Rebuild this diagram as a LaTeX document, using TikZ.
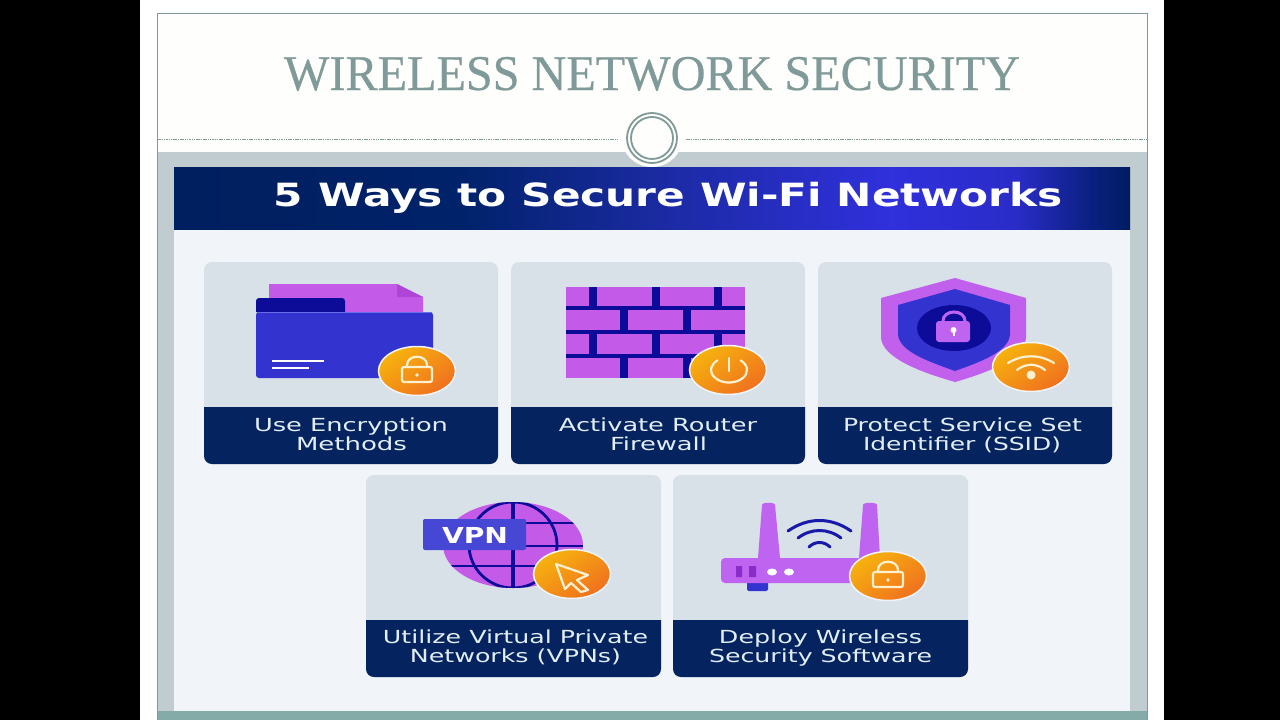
\documentclass[tikz,border=0pt]{standalone}
\usepackage{fontspec}
\usepackage{graphicx}
\usetikzlibrary{shapes.geometric}
\newfontfamily\titlefont[FakeBold=0.5]{Liberation Serif}
\newfontfamily\labelfont{DejaVu Sans}
\definecolor{sage}{HTML}{7F9A98}
\definecolor{pageoff}{HTML}{FEFFFC}
\definecolor{bandgrey}{HTML}{C0CCD0}
\definecolor{imgbg}{HTML}{F1F5FA}
\definecolor{cardbg}{HTML}{D8E0E8}
\definecolor{navy}{HTML}{05245F}
\definecolor{labeltxt}{HTML}{E2EEF6}
\definecolor{purp}{HTML}{C45BE8}
\definecolor{violet}{HTML}{BE64F0}
\definecolor{foldfold}{HTML}{AE45D8}
\definecolor{slot}{HTML}{8A2CC8}
\definecolor{folder}{HTML}{3333D0}
\definecolor{folderhi}{HTML}{6A6AE8}
\definecolor{deep}{HTML}{0C0C98}
\definecolor{cream}{HTML}{FFF0D0}
\definecolor{teal}{HTML}{84ABA8}
\definecolor{hsa}{HTML}{001F5E}
\definecolor{hsb}{HTML}{00226A}
\definecolor{hsc}{HTML}{1A2AA0}
\definecolor{hsd}{HTML}{3030DC}
\definecolor{hse}{HTML}{2A2CC8}
\definecolor{hsf}{HTML}{0A2080}
\definecolor{hsg}{HTML}{001C60}
\definecolor{bdgA}{HTML}{F6B30E}
\definecolor{bdgB}{HTML}{F0701F}
\pgfdeclarehorizontalshading{headshade}{100bp}{
  color(0bp)=(hsa);color(25bp)=(hsa);color(40bp)=(hsb);
  color(50bp)=(hsc);color(62.5bp)=(hsd);color(69bp)=(hse);color(73bp)=(hsf);color(75bp)=(hsg);color(100bp)=(hsg)}
\tikzset{
  x=1pt,y=-1pt,
  cardbox/.style={fill=cardbg,rounded corners=8pt},
  cardband/.style={fill=navy},
  cardtext/.style={text=labeltxt,anchor=base,inner sep=0pt,font=\labelfont\fontsize{18}{18}\selectfont},
  badgeshade/.style={ellipse,minimum width=77pt,minimum height=49pt,inner sep=0pt,draw=imgbg,line width=1.5pt,
    left color=bdgA,right color=bdgB,shading angle=35},
  iconline/.style={draw=cream,line width=2.2pt,line cap=round,line join=round},
  mortar/.style={fill=deep},
}
\newcommand\wfit[2]{\resizebox{#1pt}{\height}{#2}}
\newcommand\cardshape[5]{%
  \fill[cardbox] (#1,#2) rectangle (#4,#5);
  \fill[cardband] (#1,#3) -- (#4,#3) {[rounded corners=8pt] -- (#4,#5) -- (#1,#5)} -- cycle;}
\newcommand\lockicon{%
  \draw[iconline] (-15,-4) [rounded corners=2pt] -- (15,-4) -- (15,11) -- (-15,11) -- cycle;
  \draw[iconline] (-10,-4) -- (-10,-6) .. controls (-10,-17) and (10,-17) .. (10,-6) -- (10,-4);
  \fill[cream] (0,4) circle [radius=1.9];}
\begin{document}
\begin{tikzpicture}
\useasboundingbox (0,0) rectangle (1280,720);
\fill[black] (0,0) rectangle (1280,720);
\fill[white] (140,0) rectangle (1164,720);
\fill[pageoff] (157,13) rectangle (1147,720);
\fill[bandgrey] (157,152) rectangle (1147,711);
\fill[teal] (157,711) rectangle (1147,720);
\draw[sage,line width=1pt] (157,720) -- (157,13.5) -- (1147,13.5) -- (1147,720);
\node[anchor=base,inner sep=0pt,text=sage,font=\titlefont\fontsize{50}{50}\selectfont] (title) at (652,90) {\wfit{736}{WIRELESS NETWORK SECURITY}};
\coordinate (ruleL) at (157,139.5); \coordinate (ruleR) at (1147,139.5);
\fill[pageoff] (652,136) circle [radius=31];
\draw[sage,line width=0.6pt,dash pattern=on 1.5pt off 0.8pt] (ruleL) -- (618,139.5);
\draw[sage,line width=0.6pt,dash pattern=on 1.5pt off 0.8pt] (686,139.5) -- (ruleR);
\node[circle,draw=sage,line width=1.8pt,minimum size=50pt,inner sep=0pt] (ringA) at (652,138) {};
\node[circle,draw=sage,line width=1.8pt,minimum size=42pt,inner sep=0pt] (ringB) at (652,138) {};
\fill[imgbg] (174,229.5) rectangle (1130,711);
\shade[shading=headshade] (174,167) rectangle (1130,229.5);
\node[anchor=base,inner sep=0pt,text=white,font=\labelfont\bfseries\fontsize{32}{32}\selectfont] (head) at (668.5,206) {\wfit{789}{5 Ways to Secure Wi-Fi Networks}};
\cardshape{204}{262}{407}{498}{464}
\cardshape{511}{262}{407}{805}{464}
\cardshape{818}{262}{407}{1112}{464}
\cardshape{366}{475}{620}{661}{677}
\cardshape{673}{475}{620}{968}{677}
\node[cardtext] (c1a) at (351,431) {\wfit{194}{Use Encryption}};
\node[cardtext] (c1b) at (351.5,450) {\wfit{111}{Methods}};
\node[cardtext] (c2a) at (658,431) {\wfit{198}{Activate Router}};
\node[cardtext] (c2b) at (658.5,450) {\wfit{97}{Firewall}};
\node[cardtext] (c3a) at (962.5,431) {\wfit{239}{Protect Service Set}};
\node[cardtext] (c3b) at (962,450) {\wfit{198}{Identifier (SSID)}};
\node[cardtext] (c4a) at (515.5,643) {\wfit{265}{Utilize Virtual Private}};
\node[cardtext] (c4b) at (515.5,662) {\wfit{211}{Networks (VPNs)}};
\node[cardtext] (c5a) at (820.5,643) {\wfit{203}{Deploy Wireless}};
\node[cardtext] (c5b) at (820.5,662) {\wfit{223}{Security Software}};
% folder
\fill[purp] (269,284) -- (397,284) -- (423,297) -- (423,330) -- (269,330) -- cycle;
\fill[foldfold] (397,284) -- (423,297) -- (397,297) -- cycle;
\fill[deep] (256,312) {[rounded corners=3pt] -- (256,298) -- (345,298)} -- (345,312) -- cycle;
\fill[folder,rounded corners=3pt] (256,312) rectangle (433,378);
\draw[folderhi,line width=0.8pt] (257,312.5) -- (432,312.5);
\draw[white,line width=1.2pt] (272,361) -- (324,361) (272,368) -- (309,368);
\node[badgeshade] (b1) at (417,371) {};
\begin{scope}[shift={(417,371)}]\lockicon\end{scope}
% wall
\fill[purp] (566,287) rectangle (745,378);
\foreach \yy in {308,332,356} \fill[deep] (566,\yy-2.3) rectangle (745,\yy+2.3);
\foreach \xx in {593,656,718} {\fill[mortar] (\xx-4,287) rectangle (\xx+4,308); \fill[mortar] (\xx-4,332) rectangle (\xx+4,356);}
\foreach \xx in {624,687} {\fill[mortar] (\xx-4,308) rectangle (\xx+4,332); \fill[mortar] (\xx-4,356) rectangle (\xx+4,378);}
\node[badgeshade] (b2) at (728,370) {};
\draw[iconline] (740.6,360.4) arc[start angle=-50,end angle=230,x radius=18,y radius=12.5];
\draw[iconline] (729,358) -- (729,371);
% shield
\fill[violet!60!purp,line join=round] (955,278) -- (1026,298) -- (1026,338) .. controls (1024,358) and (990,372) .. (955,382) .. controls (920,372) and (883,358) .. (881,338) -- (881,298) -- cycle;
\fill[folder] (955,289) -- (1010,305) -- (1010,335) .. controls (1008,352) and (980,362) .. (955,371) .. controls (930,362) and (900,352) .. (898,335) -- (898,305) -- cycle;
\fill[deep] (954,328) circle [x radius=37,y radius=23];
\draw[violet,line width=3pt] (943,323) -- (943,321) .. controls (943,309) and (965,309) .. (965,321) -- (965,323);
\fill[violet,rounded corners=3pt] (936,321) rectangle (970,342);
\fill[white] (953.5,330) circle [radius=3];
\fill[white] (952.5,331) rectangle (954.5,336);
\node[badgeshade] (b3) at (1031,367) {};
\begin{scope}[shift={(1031,367)}]
\draw[iconline] (-23,-4) .. controls (-8,-13) and (8,-13) .. (23,-4);
\draw[iconline] (-14,3) .. controls (-5,-4) and (5,-4) .. (14,3);
\fill[cream] (0,8) circle [radius=4.5];
\end{scope}
% globe
\fill[purp] (513,545) circle [x radius=70,y radius=43];
\begin{scope}
\clip (513,545) circle [x radius=70,y radius=43];
\draw[deep,line width=2.8pt] (513,545) circle [x radius=44,y radius=43];
\draw[deep,line width=3.2pt] (513,500) -- (513,590);
\draw[deep,line width=2.8pt] (440,523) -- (586,523) (440,546) -- (586,546) (440,566) -- (586,566);
\end{scope}
\node[fill=folder!90!white,rounded corners=2pt,minimum width=103pt,minimum height=31pt,inner sep=0pt] (vpnbox) at (474.5,534.5) {};
\node[anchor=base,inner sep=0pt,text=white,font=\labelfont\bfseries\fontsize{22}{22}\selectfont] (vpntext) at (475,543) {\wfit{66}{VPN}};
\node[badgeshade] (b4) at (572,574) {};
\draw[iconline] (556,564) -- (588,575) -- (577,580) -- (588,590) -- (581,592) -- (571,583) -- (565,589) -- cycle;
% router
\fill[violet] (758,558) -- (762,505) .. controls (762,502) and (775,502) .. (775,505) -- (780,558) -- cycle;
\fill[violet] (859,558) -- (863,505) .. controls (863,502) and (877,502) .. (877,505) -- (880,558) -- cycle;
\fill[folder] (747,583) -- (768,583) {[rounded corners=2pt] -- (768,591) -- (747,591)} -- cycle;
\fill[violet,rounded corners=4pt] (721,558) rectangle (880,583);
\fill[slot] (736,566) rectangle (742,577) (749,566) rectangle (756,577);
\fill[white] (772,572) circle [x radius=5,y radius=3.5] (789,572) circle [x radius=5,y radius=3.5];
\draw[deep!70!folder,line width=3pt,line cap=round] (788,531) .. controls (808,517) and (831,517) .. (851,531);
\draw[deep!70!folder,line width=3pt,line cap=round] (798,538) .. controls (811,528) and (828,528) .. (841,538);
\draw[deep!70!folder,line width=3pt,line cap=round] (809,547) .. controls (815,541) and (824,541) .. (830,547);
\node[badgeshade] (b5) at (888,576) {};
\begin{scope}[shift={(888,576)}]\lockicon\end{scope}
\end{tikzpicture}
\end{document}
